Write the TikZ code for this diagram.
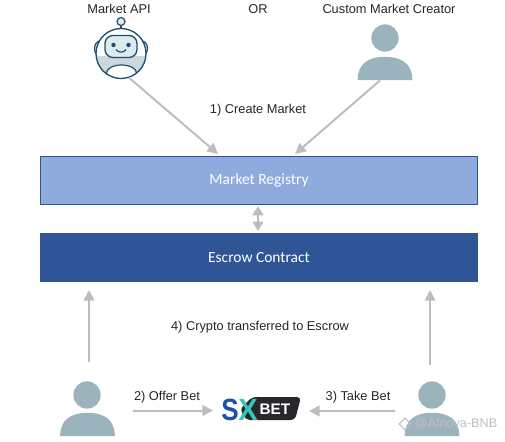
\documentclass[tikz,border=0pt]{standalone}
\usepackage{fontspec}
\setmainfont{Liberation Sans}
\newfontfamily\boxfont{Carlito}
\usetikzlibrary{positioning,arrows.meta,shapes,calc}
\definecolor{regfill}{HTML}{8FAADC}
\definecolor{esc}{HTML}{2F5597}
\definecolor{flowgray}{HTML}{BDBDBD}
\definecolor{person}{HTML}{9AB3BC}
\definecolor{robotline}{HTML}{1F4E6E}
\definecolor{robotface}{HTML}{DCEBF0}
\definecolor{robotbody}{HTML}{CBD8DE}
\definecolor{sxblue}{HTML}{1F4FA8}
\definecolor{sxteal}{HTML}{35C4B5}
\definecolor{tagdark}{HTML}{26282B}

\begin{document}
\begin{tikzpicture}[x=0.75pt,y=-0.75pt,
      lab/.style={font=\fontsize{9.6}{11}\selectfont,text=black!85,inner sep=0pt},
      layer/.style={draw=esc,line width=0.7pt,minimum width=328pt,minimum height=36.5pt,
        inner sep=0pt,text=white,font=\boxfont\fontsize{11.6}{13}\selectfont},
      flow/.style={-{Triangle[length=8pt,width=8pt]},draw=flowgray,line width=1.5pt},
      flowboth/.style={{Triangle[length=7pt,width=8pt]}-{Triangle[length=7pt,width=8pt]},draw=flowgray,line width=2pt},
      head/.style={circle,fill=person,minimum size=20.5pt,inner sep=0pt},
      shoulders/.style={minimum width=41pt,minimum height=17.5pt,inner sep=0pt,
        path picture={\fill[person] (path picture bounding box.south west)
          .. controls +(0pt,12pt) and +(-13pt,0pt) .. (path picture bounding box.north)
          .. controls +(13pt,0pt) and +(0pt,12pt) .. (path picture bounding box.south east) -- cycle;}}]
    \useasboundingbox (0,0) rectangle (505,441);

    % labels
    \node[lab] (api) at (119,9) {Market API};
    \node[lab] (orlab) at (258,9) {OR};
    \node[lab] (custom) at (389,9) {Custom Market Creator};
    \node[lab] (create) at (258,110) {1) Create Market};
    \node[lab] (crypto) at (260,327.5) {4) Crypto transferred to Escrow};
    \node[lab] (offer) at (167,397) {2) Offer Bet};
    \node[lab] (take) at (358,397) {3) Take Bet};

    % contract layers
    \node[layer,fill=regfill] (registry) at (259,180.5) {Market Registry};
    \node[layer,fill=esc] (escrow) at (259,257.5) {Escrow Contract};

    % robot
    \draw[robotline,line width=0.9pt] (121,25) -- (121,29);
    \node[circle,draw=robotline,line width=0.9pt,fill=robotface,minimum size=6pt,inner sep=0pt] (aerial) at (121,21.5) {};
    \draw[robotline,line width=0.9pt,fill=robotface] (100,48.5) ellipse (5.5 and 7.5);
    \draw[robotline,line width=0.9pt,fill=robotface] (142,48.5) ellipse (5.5 and 7.5);
    \node[circle,fill=white,minimum size=37.5pt,inner sep=0pt] (robot) at (121,53.5) {};
    \begin{scope}
      \clip (121,53.5) circle (25);
      \fill[robotbody] (95,56) rectangle (147,80);
      \draw[robotline,line width=0.9pt,fill=white] (121.5,73) ellipse (15 and 8);
    \end{scope}
    \draw[robotline,line width=1pt] (121,53.5) circle (25);
    \draw[robotline,line width=1pt,fill=robotface,rounded corners=6pt] (105,35.5) rectangle (137,57.5);
    \fill[robotline] (113.5,45) circle (2.2) (128.5,45) circle (2.2);
    \draw[robotline,line width=0.9pt] (116,49.5) .. controls (118,53) and (124,53) .. (126,49.5);

    % people
    \node[head] (creatorhead) at (385,38) {};
    \node[shoulders] (creator) at (385,68.5) {};
    \node[head] (makerhead) at (87,395) {};
    \node[shoulders] (maker) at (87.5,424.5) {};
    \node[head] (takerhead) at (432,395) {};
    \node[shoulders] (taker) at (432,424.5) {};

    % sx logo
    \path[fill=tagdark,rounded corners=3pt] (252,397) -- (301,397) -- (295,420) -- (246,420) -- (240,409) -- cycle;
    \node[inner sep=0pt,text=sxteal,font=\bfseries\fontsize{23}{23}\selectfont,xscale=0.95] (sxx) at (248,410) {X};
    \node[inner sep=0pt,text=sxblue,font=\bfseries\fontsize{23}{23}\selectfont,xscale=0.85] (sxs) at (230,410) {S};
    \node[inner sep=0pt,text=white,font=\bfseries\fontsize{11.5}{15}\selectfont] (sxbet) at (275,409) {BET};

    % connector ends
    \coordinate (apiin) at (218,154);
    \coordinate (creatorin) at (295,154);
    \coordinate (makerout) at (89,362);
    \coordinate (makerin) at (89,290);
    \coordinate (takerout) at (430,365);
    \coordinate (takerin) at (430,290);
    \coordinate (regout) at (258,206);
    \coordinate (escin) at (258,231);
    \coordinate (offerout) at (133,410.5);
    \coordinate (offerin) at (213,410.5);
    \coordinate (takeout) at (395,411);
    \coordinate (takein) at (309,411);

    \draw[flow] (robot.-72) -- (apiin);
    \draw[flow] (creator.south) ++(-5,0) -- (creatorin);
    \draw[flowboth] (regout) -- (escin);
    \draw[flow] (makerout) -- (makerin);
    \draw[flow] (takerout) -- (takerin);
    \draw[flow] (offerout) -- (offerin);
    \draw[flow] (takeout) -- (takein);

    % watermark
    \node[diamond,draw=black!25,line width=0.8pt,minimum size=9pt,inner sep=0pt] (markicon) at (405,424) {};
    \node[inner sep=0pt,text=black!25,font=\fontsize{9.5}{11}\selectfont] (mark) at (456,424) {@Afnova-BNB};
\end{tikzpicture}
\end{document}
